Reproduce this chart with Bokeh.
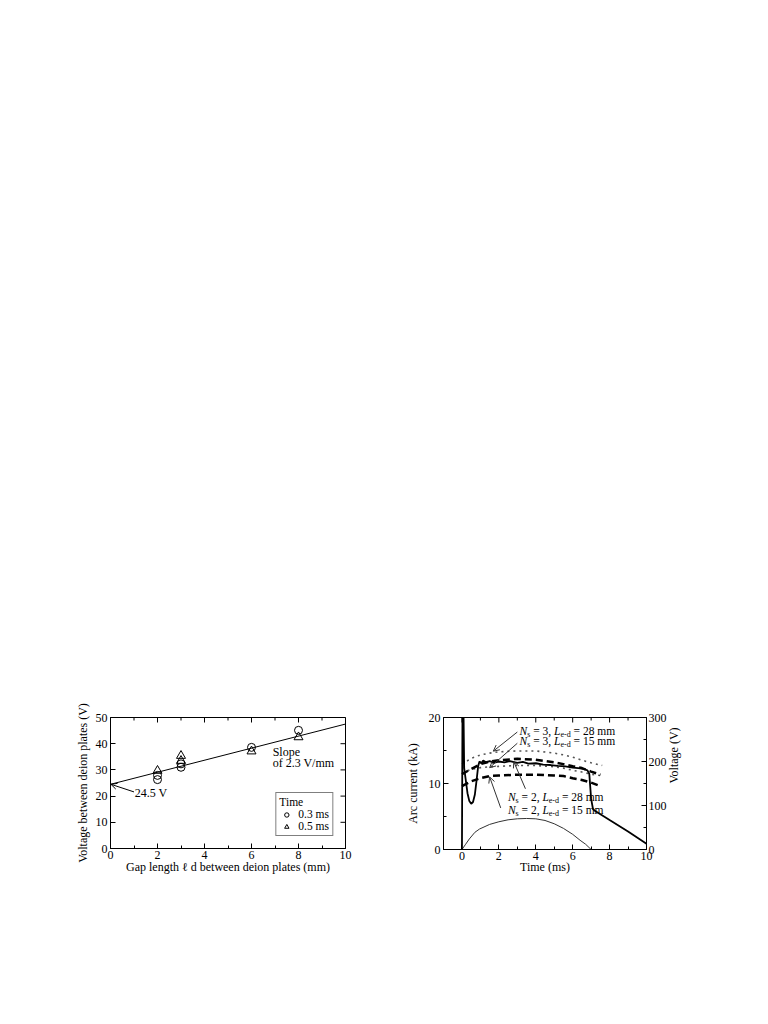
import math
from bokeh.plotting import figure
from bokeh.models import (Range1d, LinearAxis, FixedTicker, Label, Arrow, OpenHead,
                          Legend, LegendItem, Spacer)
from bokeh.layouts import row, column
from bokeh.embed import file_html
from bokeh.resources import INLINE

FONT = "Liberation Serif"

# ---------------- Left chart data ----------------
gap_03 = [2, 2, 3, 3, 6, 8]
volt_03 = [27.9, 26.3, 32.3, 31.0, 38.6, 45.1]
gap_05 = [2, 3, 3, 6, 8]
volt_05 = [29.7, 35.4, 33.5, 37.1, 42.5]
fit_intercept = 24.5
fit_slope = 2.3
fit_x = [0, 10]
left_xticks = [0, 2, 4, 6, 8, 10]
left_xminor = [1, 3, 5, 7, 9]
left_yticks = [0, 10, 20, 30, 40, 50]

# ---------------- Right chart data ----------------
meas_t = [0, 0.03, 0.08, 0.12, 0.2, 0.3, 0.4, 0.5, 0.6, 0.7, 0.8, 0.88, 0.95, 1.05, 1.15,
          1.3, 1.5, 1.7, 2.0, 2.3, 2.6, 3.0, 3.3, 3.6, 4.0, 4.4, 4.8, 5.2, 5.6, 6.0, 6.3,
          6.6, 6.8, 6.9, 7.0, 7.1, 7.2, 8.0, 9.0, 10.0]
meas_v = [0, 330, 330, 185, 160, 128, 110, 104, 108, 125, 160, 190, 200, 196, 202,
          198, 201, 197, 200, 198, 201, 197, 199, 195, 196, 193, 192, 190, 189, 186, 185,
          183, 180, 172, 115, 92, 88, 67, 41, 13]
cur_t = [0, 0.2, 0.4, 0.7, 0.95, 1.5, 2.0, 2.5, 3.0, 3.5, 4.0, 4.5, 5.0, 5.5, 6.0, 6.4, 6.7, 7.0]
cur_ka = [0, 0.8, 1.6, 2.6, 3.1, 3.8, 4.2, 4.5, 4.65, 4.7, 4.65, 4.4, 3.9, 3.2, 2.3, 1.4, 0.8, 0]
sim_t_a = [0, 0.5, 1, 1.5, 2, 3, 4, 5, 5.5, 6, 6.5, 7, 7.6]
sim_t_b = [0, 0.5, 1, 1.5, 2, 3, 4, 5, 5.5, 6, 6.5, 7, 7.5]
v_ns3_28 = [194, 207, 215, 219, 222, 224, 224, 219, 215, 210, 203, 197, 191]
v_ns3_15 = [174, 182, 186, 188, 189, 191, 191, 188, 185, 180, 176, 171, 168]
v_ns2_28 = [171, 183, 194, 200, 203, 206, 204, 198, 194, 189, 185, 177, 170]
v_ns2_15 = [144, 155, 162, 167, 168, 170, 170, 168, 167, 162, 158, 152, 144]
right_xticks = [0, 2, 4, 6, 8, 10]
right_xminor = [1, 3, 5, 7, 9]
right_yticks = [0, 10, 20]
right_yminor = [5, 15]
volt_ticks = [0, 100, 200, 300]
volt_minor = [50, 150, 250]

# ---------------- helpers ----------------
TW = {' ': 250, '(': 333, ')': 333, ',': 250, '-': 333, '.': 250, '/': 278, '=': 564,
      'A': 722, 'G': 722, 'L': 611, 'N': 722, 'S': 556, 'T': 611, 'V': 722,
      'a': 444, 'b': 500, 'c': 444, 'd': 500, 'e': 444, 'f': 333, 'g': 500, 'h': 500,
      'i': 278, 'k': 500, 'l': 278, 'm': 778, 'n': 500, 'o': 500, 'p': 500, 'r': 333,
      's': 389, 't': 278, 'w': 722, 'y': 500}
TWI = {'N': 667, 'L': 556}


def tw(s, size, italic=False):
    tot = 0
    for ch in s:
        if italic and ch in TWI:
            tot += TWI[ch]
        else:
            tot += TW.get(ch, 500)
    return tot * size / 1000.0


def rich(p, x, y, segs, size=11.0, sub=7.5):
    cur = 0.0
    for t, k in segs:
        fs = sub if k == "sub" else size
        lead = len(t) - len(t.lstrip(' '))
        txt = t.strip(' ')
        off = cur + lead * 250 * fs / 1000.0
        if txt:
            p.add_layout(Label(x=x, y=y, x_offset=off, y_offset=(-3.5 if k == "sub" else 0),
                               text=txt, text_font=FONT, text_font_size=f"{fs}px",
                               text_font_style=("italic" if k == "i" else "normal"),
                               text_color="black", text_baseline="middle", text_align="left"))
        cur += tw(t, fs, k == "i")


def style_axis(ax, ticks, minor, size="12px", standoff=2):
    ax.ticker = FixedTicker(ticks=ticks, minor_ticks=minor)
    ax.major_tick_in = 5
    ax.major_tick_out = 0
    ax.minor_tick_in = 3
    ax.minor_tick_out = 0
    ax.axis_line_color = "black"
    ax.major_tick_line_color = "black"
    ax.minor_tick_line_color = "black"
    ax.major_label_text_font = FONT
    ax.major_label_text_color = "black"
    ax.major_label_text_font_size = size
    ax.major_label_standoff = standoff
    ax.axis_label_text_font = FONT
    ax.axis_label_text_font_style = "normal"
    ax.axis_label_text_color = "black"
    ax.axis_label_text_font_size = size


def mirror_ticks(p, xs, ys, size, vertical):
    p.scatter(xs, ys, marker="dash", size=size, angle=(math.pi / 2 if vertical else 0),
              line_color="black", line_width=1)


# ---------------- Left figure ----------------
p1 = figure(width=296, height=189, x_range=Range1d(0, 10), y_range=Range1d(0, 50),
            output_backend="svg", toolbar_location=None,
            min_border_left=51, min_border_right=10, min_border_top=16, min_border_bottom=40)
p1.grid.visible = False
p1.outline_line_color = "black"
style_axis(p1.xaxis[0], left_xticks, left_xminor)
p1.xaxis[0].axis_label = "Gap length \u2113 d between deion plates (mm)"
p1.xaxis[0].axis_label_standoff = -2
style_axis(p1.yaxis[0], left_yticks, [], standoff=3)
p1.yaxis[0].axis_label = "Voltage between deion plates (V)"
p1.yaxis[0].axis_label_standoff = 3
mirror_ticks(p1, left_xticks, [50] * len(left_xticks), 10, True)
mirror_ticks(p1, left_xminor, [50] * len(left_xminor), 6, True)
mirror_ticks(p1, [10] * len(left_yticks), left_yticks, 10, False)

fit_y = [fit_intercept + fit_slope * v for v in fit_x]
p1.line(fit_x, fit_y, line_color="black", line_width=1)
r_c = p1.scatter(gap_03, volt_03, marker="circle", size=8, fill_color=None,
                 line_color="black", line_width=1)
r_t = p1.scatter(gap_05, volt_05, marker="triangle", size=9, fill_color=None,
                 line_color="black", line_width=1)

leg = Legend(items=[LegendItem(label="0.3 ms", renderers=[r_c]),
                    LegendItem(label="0.5 ms", renderers=[r_t])],
             title="Time", location="bottom_right")
leg.title_text_font = FONT
leg.title_text_font_size = "11.5px"
leg.title_text_font_style = "normal"
leg.title_text_color = "black"
leg.title_standoff = 0
leg.label_text_font = FONT
leg.label_text_font_size = "11.5px"
leg.label_text_color = "black"
leg.border_line_color = "black"
leg.border_line_width = 1
leg.background_fill_alpha = 1.0
leg.margin = 12
leg.padding = 3
leg.spacing = 0
leg.label_height = 11
leg.glyph_height = 11
leg.glyph_width = 14
leg.label_standoff = 5
p1.add_layout(leg)

p1.add_layout(Label(x=6.9, y=37.0, text="Slope", text_font=FONT, text_font_size="12px",
                    text_baseline="middle", text_color="black"))
p1.add_layout(Label(x=6.9, y=32.6, text="of 2.3 V/mm", text_font=FONT,
                    text_font_size="12px", text_baseline="middle", text_color="black"))
p1.add_layout(Label(x=1.03, y=21.0, text="24.5 V", text_font=FONT, text_font_size="12px",
                    text_baseline="middle", text_color="black"))
p1.add_layout(Arrow(end=OpenHead(size=6, line_width=1, line_color="black"),
                    x_start=1.0, y_start=21.6, x_end=0.02, y_end=24.5,
                    line_width=1, line_color="black"))

# ---------------- Right figure ----------------
p2 = figure(width=292, height=190, x_range=Range1d(-1, 10), y_range=Range1d(0, 20),
            output_backend="svg", toolbar_location=None,
            min_border_left=44, min_border_right=45, min_border_top=18, min_border_bottom=36)
p2.grid.visible = False
p2.outline_line_color = "black"
p2.extra_y_ranges = {"volt": Range1d(0, 300)}
style_axis(p2.xaxis[0], right_xticks, right_xminor)
p2.xaxis[0].axis_label = "Time (ms)"
p2.xaxis[0].axis_label_standoff = -3
style_axis(p2.yaxis[0], right_yticks, right_yminor, standoff=3)
p2.yaxis[0].axis_label = "Arc current (kA)"
p2.yaxis[0].axis_label_standoff = 6
vax = LinearAxis(y_range_name="volt", axis_label="Voltage (V)")
style_axis(vax, volt_ticks, volt_minor)
vax.axis_label_standoff = 4
try:
    vax.axis_label_orientation = math.pi / 2
except Exception:
    pass
p2.add_layout(vax, "right")
mirror_ticks(p2, right_xticks, [20] * len(right_xticks), 10, True)
mirror_ticks(p2, right_xminor, [20] * len(right_xminor), 6, True)

p2.line(sim_t_a, v_ns3_28, y_range_name="volt", line_color="#555555", line_width=1.6,
        line_dash="2 4")
p2.line(sim_t_b, v_ns3_15, y_range_name="volt", line_color="#555555", line_width=1.6,
        line_dash="2 4")
p2.line(sim_t_b, v_ns2_28, y_range_name="volt", line_color="black", line_width=2.5,
        line_dash="7 4")
p2.line(sim_t_b, v_ns2_15, y_range_name="volt", line_color="black", line_width=2.5,
        line_dash="7 4")
p2.line(cur_t, cur_ka, line_color="#333333", line_width=1)
p2.line(meas_t, meas_v, y_range_name="volt", line_color="black", line_width=1.8)

sizes = dict(size=11.5, sub=8)
rich(p2, 3.12, 18.0, [("N", "i"), ("s", "sub"), (" = 3, ", "r"), ("L", "i"), ("e-d", "sub"),
                      (" = 28 mm", "r")], **sizes)
rich(p2, 3.12, 16.4, [("N", "i"), ("s", "sub"), (" = 3, ", "r"), ("L", "i"), ("e-d", "sub"),
                      (" = 15 mm", "r")], **sizes)
rich(p2, 2.49, 8.0, [("N", "i"), ("s", "sub"), (" = 2, ", "r"), ("L", "i"), ("e-d", "sub"),
                     (" = 28 mm", "r")], **sizes)
rich(p2, 2.49, 6.0, [("N", "i"), ("s", "sub"), (" = 2, ", "r"), ("L", "i"), ("e-d", "sub"),
                     (" = 15 mm", "r")], **sizes)

for xs, ys, xe, ye in [(3.0, 17.8, 1.7, 14.9), (3.0, 16.1, 1.5, 12.4),
                       (3.44, 9.2, 2.81, 13.3), (2.1, 6.3, 1.5, 11.0)]:
    p2.add_layout(Arrow(end=OpenHead(size=6, line_width=1, line_color="#333333"),
                        x_start=xs, y_start=ys, x_end=xe, y_end=ye,
                        line_width=1, line_color="#333333"))

layout = column(Spacer(height=699, width=10),
                row(Spacer(width=59, height=10), p1, Spacer(width=44, height=10), p2))

with open("out.html", "w") as f:
    f.write(file_html(layout, INLINE))
